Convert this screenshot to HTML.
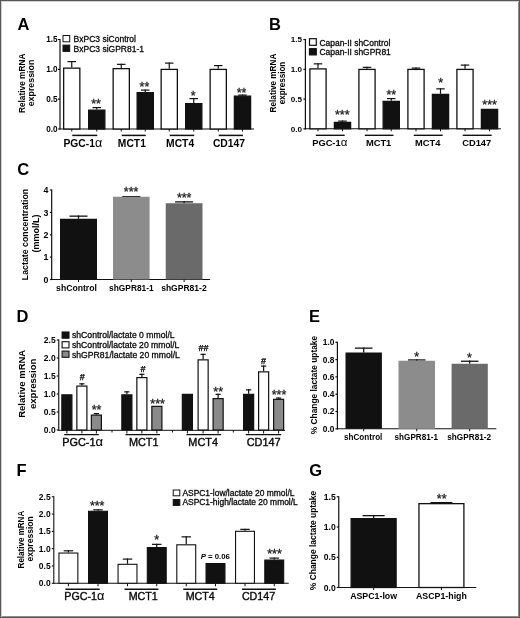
<!DOCTYPE html>
<html lang="en">
<head>
<meta charset="utf-8">
<title>Figure: GPR81 silencing, mRNA expression and lactate uptake</title>
<style>
html,body{margin:0;padding:0;background:#fff;}
body{width:520px;height:618px;overflow:hidden;position:relative;font-family:"Liberation Sans",Arial,Helvetica,sans-serif;}
#frame{position:absolute;left:0;top:0;width:520px;height:618px;box-sizing:border-box;border:1px solid #585858;box-shadow:inset 1px 1px 0 #d0d0d0,inset -1px -1px 0 #8c8c8c;}
svg{position:absolute;left:0;top:0;display:block;}
svg text{font-family:"Liberation Sans",Arial,Helvetica,sans-serif;}
</style>
</head>
<body>
<svg width="520" height="618" viewBox="0 0 520 618">
<rect x="0" y="0" width="520" height="618" fill="#fff"/>

<text x="17.5" y="30" font-size="16.5" font-weight="bold">A</text>
<text x="269" y="30" font-size="16.5" font-weight="bold">B</text>
<text x="17.3" y="175" font-size="16.5" font-weight="bold">C</text>
<text x="16.5" y="321.5" font-size="16.5" font-weight="bold">D</text>
<text x="309" y="322" font-size="16.5" font-weight="bold">E</text>
<text x="16.5" y="476" font-size="16.5" font-weight="bold">F</text>
<text x="309.3" y="476" font-size="16.5" font-weight="bold">G</text>
<g id="panelA">
<line x1="60" y1="38.9" x2="60" y2="129.6" stroke="#111" stroke-width="1.2"/>
<line x1="58" y1="39.5" x2="60" y2="39.5" stroke="#111" stroke-width="1.2"/>
<text x="57.6" y="42.45" font-size="8.2" font-weight="bold" text-anchor="end">1.5</text>
<line x1="58" y1="69.3" x2="60" y2="69.3" stroke="#111" stroke-width="1.2"/>
<text x="57.6" y="72.25" font-size="8.2" font-weight="bold" text-anchor="end">1.0</text>
<line x1="58" y1="99.1" x2="60" y2="99.1" stroke="#111" stroke-width="1.2"/>
<text x="57.6" y="102.05" font-size="8.2" font-weight="bold" text-anchor="end">0.5</text>
<line x1="58" y1="129" x2="60" y2="129" stroke="#111" stroke-width="1.2"/>
<text x="57.6" y="131.95" font-size="8.2" font-weight="bold" text-anchor="end">0.0</text>
<line x1="59.5" y1="129" x2="254" y2="129" stroke="#111" stroke-width="1.1"/>
<line x1="71.75" y1="67.5" x2="71.75" y2="61" stroke="#111" stroke-width="1.2"/>
<line x1="67.5" y1="61.6" x2="76" y2="61.6" stroke="#111" stroke-width="1.2"/>
<rect x="63.65" y="68.15" width="16.2" height="60.85" fill="#fff" stroke="#111" stroke-width="1.3"/>
<line x1="71.75" y1="129" x2="71.75" y2="131.5" stroke="#111" stroke-width="1"/>
<line x1="96.75" y1="109.5" x2="96.75" y2="107" stroke="#111" stroke-width="1.2"/>
<line x1="92.5" y1="107.6" x2="101" y2="107.6" stroke="#111" stroke-width="1.2"/>
<rect x="88.65" y="110.15" width="16.2" height="18.85" fill="#111" stroke="#111" stroke-width="1.3"/>
<line x1="96.75" y1="129" x2="96.75" y2="131.5" stroke="#111" stroke-width="1"/>
<line x1="121.25" y1="68" x2="121.25" y2="63.75" stroke="#111" stroke-width="1.2"/>
<line x1="117" y1="64.35" x2="125.5" y2="64.35" stroke="#111" stroke-width="1.2"/>
<rect x="113.15" y="68.65" width="16.2" height="60.35" fill="#fff" stroke="#111" stroke-width="1.3"/>
<line x1="121.25" y1="129" x2="121.25" y2="131.5" stroke="#111" stroke-width="1"/>
<line x1="145.25" y1="92" x2="145.25" y2="89.5" stroke="#111" stroke-width="1.2"/>
<line x1="141" y1="90.1" x2="149.5" y2="90.1" stroke="#111" stroke-width="1.2"/>
<rect x="137.15" y="92.65" width="16.2" height="36.35" fill="#111" stroke="#111" stroke-width="1.3"/>
<line x1="145.25" y1="129" x2="145.25" y2="131.5" stroke="#111" stroke-width="1"/>
<line x1="169.25" y1="68.75" x2="169.25" y2="62.5" stroke="#111" stroke-width="1.2"/>
<line x1="165" y1="63.1" x2="173.5" y2="63.1" stroke="#111" stroke-width="1.2"/>
<rect x="161.15" y="69.4" width="16.2" height="59.6" fill="#fff" stroke="#111" stroke-width="1.3"/>
<line x1="169.25" y1="129" x2="169.25" y2="131.5" stroke="#111" stroke-width="1"/>
<line x1="193.75" y1="103" x2="193.75" y2="98" stroke="#111" stroke-width="1.2"/>
<line x1="189.5" y1="98.6" x2="198" y2="98.6" stroke="#111" stroke-width="1.2"/>
<rect x="185.65" y="103.65" width="16.2" height="25.35" fill="#111" stroke="#111" stroke-width="1.3"/>
<line x1="193.75" y1="129" x2="193.75" y2="131.5" stroke="#111" stroke-width="1"/>
<line x1="218.25" y1="68.75" x2="218.25" y2="65" stroke="#111" stroke-width="1.2"/>
<line x1="214" y1="65.6" x2="222.5" y2="65.6" stroke="#111" stroke-width="1.2"/>
<rect x="210.15" y="69.4" width="16.2" height="59.6" fill="#fff" stroke="#111" stroke-width="1.3"/>
<line x1="218.25" y1="129" x2="218.25" y2="131.5" stroke="#111" stroke-width="1"/>
<line x1="242.5" y1="95.5" x2="242.5" y2="94.5" stroke="#111" stroke-width="1.2"/>
<line x1="238.25" y1="95.1" x2="246.75" y2="95.1" stroke="#111" stroke-width="1.2"/>
<rect x="234.4" y="96.15" width="16.2" height="32.85" fill="#111" stroke="#111" stroke-width="1.3"/>
<line x1="242.5" y1="129" x2="242.5" y2="131.5" stroke="#111" stroke-width="1"/>
<line x1="72.25" y1="135.4" x2="97.25" y2="135.4" stroke="#111" stroke-width="1.5"/>
<text x="82.85" y="146.5" font-size="10.3" text-anchor="middle" font-weight="bold">PGC-1<tspan font-size="12.5" font-weight="normal" stroke-width="0.1">α</tspan></text>
<line x1="121.75" y1="135.4" x2="145.75" y2="135.4" stroke="#111" stroke-width="1.5"/>
<text x="131.85" y="146.5" font-size="10.3" text-anchor="middle" font-weight="bold">MCT1</text>
<line x1="169.75" y1="135.4" x2="194.25" y2="135.4" stroke="#111" stroke-width="1.5"/>
<text x="180.1" y="146.5" font-size="10.3" text-anchor="middle" font-weight="bold">MCT4</text>
<line x1="218.75" y1="135.4" x2="243" y2="135.4" stroke="#111" stroke-width="1.5"/>
<text x="228.97" y="146.5" font-size="10.3" text-anchor="middle" font-weight="bold">CD147</text>
<rect x="63" y="35.5" width="6.7" height="6.3" fill="#fff" stroke="#111" stroke-width="1"/>
<rect x="63" y="45.1" width="6.7" height="6.3" fill="#111" stroke="#111" stroke-width="1"/>
<text x="73.6" y="42.2" font-size="8.5" stroke="#111" stroke-width="0.3">BxPC3 siControl</text>
<text x="73.6" y="51.5" font-size="8.5" stroke="#111" stroke-width="0.3">BxPC3 siGPR81-1</text>
<text x="24.8" y="83.3" font-size="9" font-weight="bold" text-anchor="middle" transform="rotate(-90 24.8 83.3)" textLength="59.6" lengthAdjust="spacingAndGlyphs">Relative mRNA</text>
<text x="33.6" y="83" font-size="8.6" font-weight="bold" text-anchor="middle" transform="rotate(-90 33.6 83)" textLength="46.6" lengthAdjust="spacingAndGlyphs">expression</text>
<text x="96.1" y="108.3" font-size="12.5" text-anchor="middle" fill="#222" stroke="#222" stroke-width="0.3">**</text>
<text x="144.4" y="90.8" font-size="12.5" text-anchor="middle" fill="#222" stroke="#222" stroke-width="0.3">**</text>
<text x="193.2" y="99.5" font-size="12.5" text-anchor="middle" fill="#222" stroke="#222" stroke-width="0.3">*</text>
<text x="241.6" y="96.5" font-size="12.5" text-anchor="middle" fill="#222" stroke="#222" stroke-width="0.3">**</text>
</g>
<g id="panelB">
<line x1="305.4" y1="38.9" x2="305.4" y2="129.4" stroke="#111" stroke-width="1.2"/>
<line x1="303.4" y1="39.5" x2="305.4" y2="39.5" stroke="#111" stroke-width="1.2"/>
<text x="302" y="42.42" font-size="8.1" font-weight="bold" text-anchor="end">1.5</text>
<line x1="303.4" y1="69.3" x2="305.4" y2="69.3" stroke="#111" stroke-width="1.2"/>
<text x="302" y="72.22" font-size="8.1" font-weight="bold" text-anchor="end">1.0</text>
<line x1="303.4" y1="99.1" x2="305.4" y2="99.1" stroke="#111" stroke-width="1.2"/>
<text x="302" y="102.02" font-size="8.1" font-weight="bold" text-anchor="end">0.5</text>
<line x1="303.4" y1="128.8" x2="305.4" y2="128.8" stroke="#111" stroke-width="1.2"/>
<text x="302" y="131.72" font-size="8.1" font-weight="bold" text-anchor="end">0.0</text>
<line x1="304.9" y1="128.8" x2="501" y2="128.8" stroke="#111" stroke-width="1.1"/>
<line x1="318" y1="68.25" x2="318" y2="63.25" stroke="#111" stroke-width="1.2"/>
<line x1="313.75" y1="63.85" x2="322.25" y2="63.85" stroke="#111" stroke-width="1.2"/>
<rect x="309.9" y="68.9" width="16.2" height="59.9" fill="#fff" stroke="#111" stroke-width="1.3"/>
<line x1="318" y1="128.8" x2="318" y2="131.3" stroke="#111" stroke-width="1"/>
<line x1="342.5" y1="121.75" x2="342.5" y2="120.5" stroke="#111" stroke-width="1.2"/>
<line x1="338.25" y1="121.1" x2="346.75" y2="121.1" stroke="#111" stroke-width="1.2"/>
<rect x="334.4" y="122.4" width="16.2" height="6.4" fill="#111" stroke="#111" stroke-width="1.3"/>
<line x1="342.5" y1="128.8" x2="342.5" y2="131.3" stroke="#111" stroke-width="1"/>
<line x1="367" y1="68.75" x2="367" y2="66.75" stroke="#111" stroke-width="1.2"/>
<line x1="362.75" y1="67.35" x2="371.25" y2="67.35" stroke="#111" stroke-width="1.2"/>
<rect x="358.9" y="69.4" width="16.2" height="59.4" fill="#fff" stroke="#111" stroke-width="1.3"/>
<line x1="367" y1="128.8" x2="367" y2="131.3" stroke="#111" stroke-width="1"/>
<line x1="391.25" y1="100.75" x2="391.25" y2="98" stroke="#111" stroke-width="1.2"/>
<line x1="387" y1="98.6" x2="395.5" y2="98.6" stroke="#111" stroke-width="1.2"/>
<rect x="383.15" y="101.4" width="16.2" height="27.4" fill="#111" stroke="#111" stroke-width="1.3"/>
<line x1="391.25" y1="128.8" x2="391.25" y2="131.3" stroke="#111" stroke-width="1"/>
<line x1="416" y1="68.75" x2="416" y2="67.5" stroke="#111" stroke-width="1.2"/>
<line x1="411.75" y1="68.1" x2="420.25" y2="68.1" stroke="#111" stroke-width="1.2"/>
<rect x="407.9" y="69.4" width="16.2" height="59.4" fill="#fff" stroke="#111" stroke-width="1.3"/>
<line x1="416" y1="128.8" x2="416" y2="131.3" stroke="#111" stroke-width="1"/>
<line x1="440.5" y1="93.75" x2="440.5" y2="88.25" stroke="#111" stroke-width="1.2"/>
<line x1="436.25" y1="88.85" x2="444.75" y2="88.85" stroke="#111" stroke-width="1.2"/>
<rect x="432.4" y="94.4" width="16.2" height="34.4" fill="#111" stroke="#111" stroke-width="1.3"/>
<line x1="440.5" y1="128.8" x2="440.5" y2="131.3" stroke="#111" stroke-width="1"/>
<line x1="465" y1="68.75" x2="465" y2="64.5" stroke="#111" stroke-width="1.2"/>
<line x1="460.75" y1="65.1" x2="469.25" y2="65.1" stroke="#111" stroke-width="1.2"/>
<rect x="456.9" y="69.4" width="16.2" height="59.4" fill="#fff" stroke="#111" stroke-width="1.3"/>
<line x1="465" y1="128.8" x2="465" y2="131.3" stroke="#111" stroke-width="1"/>
<rect x="481.4" y="109.4" width="16.2" height="19.4" fill="#111" stroke="#111" stroke-width="1.3"/>
<line x1="489.5" y1="128.8" x2="489.5" y2="131.3" stroke="#111" stroke-width="1"/>
<line x1="315.8" y1="135.3" x2="344.7" y2="135.3" stroke="#111" stroke-width="1.4"/>
<text x="329.75" y="146.4" font-size="9.3" text-anchor="middle" font-weight="bold">PGC-1<tspan font-size="11.5" font-weight="normal" stroke-width="0.1">α</tspan></text>
<line x1="364.8" y1="135.3" x2="393.45" y2="135.3" stroke="#111" stroke-width="1.4"/>
<text x="378.62" y="146.4" font-size="9.3" text-anchor="middle" font-weight="bold">MCT1</text>
<line x1="413.8" y1="135.3" x2="442.7" y2="135.3" stroke="#111" stroke-width="1.4"/>
<text x="427.75" y="146.4" font-size="9.3" text-anchor="middle" font-weight="bold">MCT4</text>
<line x1="462.8" y1="135.3" x2="491.7" y2="135.3" stroke="#111" stroke-width="1.4"/>
<text x="476.75" y="146.4" font-size="9.3" text-anchor="middle" font-weight="bold">CD147</text>
<rect x="309.5" y="38.7" width="6.8" height="6.6" fill="#fff" stroke="#111" stroke-width="1.2"/>
<rect x="309.5" y="48.7" width="6.8" height="6.2" fill="#111" stroke="#111" stroke-width="1.2"/>
<text x="319.5" y="45.5" font-size="8.45" stroke="#111" stroke-width="0.3">Capan-II shControl</text>
<text x="319.5" y="54.7" font-size="8.45" stroke="#111" stroke-width="0.3">Capan-II shGPR81</text>
<text x="275.5" y="83" font-size="8.5" font-weight="bold" text-anchor="middle" transform="rotate(-90 275.5 83)" textLength="58.8" lengthAdjust="spacingAndGlyphs">Relative mRNA</text>
<text x="285" y="83" font-size="8.2" font-weight="bold" text-anchor="middle" transform="rotate(-90 285 83)" textLength="42.6" lengthAdjust="spacingAndGlyphs">expression</text>
<text x="342.3" y="118.5" font-size="12.5" text-anchor="middle" fill="#222" stroke="#222" stroke-width="0.3">***</text>
<text x="391.3" y="99" font-size="12.5" text-anchor="middle" fill="#222" stroke="#222" stroke-width="0.3">**</text>
<text x="440.6" y="87.3" font-size="12.5" text-anchor="middle" fill="#222" stroke="#222" stroke-width="0.3">*</text>
<text x="489.6" y="108.8" font-size="12.5" text-anchor="middle" fill="#222" stroke="#222" stroke-width="0.3">***</text>
</g>
<g id="panelC">
<line x1="51.7" y1="189.4" x2="51.7" y2="280.1" stroke="#111" stroke-width="1.2"/>
<line x1="49.9" y1="190" x2="51.7" y2="190" stroke="#111" stroke-width="1.2"/>
<text x="48.5" y="193.17" font-size="8.8" font-weight="bold" text-anchor="end">4</text>
<line x1="49.9" y1="212.4" x2="51.7" y2="212.4" stroke="#111" stroke-width="1.2"/>
<text x="48.5" y="215.57" font-size="8.8" font-weight="bold" text-anchor="end">3</text>
<line x1="49.9" y1="234.8" x2="51.7" y2="234.8" stroke="#111" stroke-width="1.2"/>
<text x="48.5" y="237.97" font-size="8.8" font-weight="bold" text-anchor="end">2</text>
<line x1="49.9" y1="257.1" x2="51.7" y2="257.1" stroke="#111" stroke-width="1.2"/>
<text x="48.5" y="260.27" font-size="8.8" font-weight="bold" text-anchor="end">1</text>
<line x1="49.9" y1="279.5" x2="51.7" y2="279.5" stroke="#111" stroke-width="1.2"/>
<text x="48.5" y="282.67" font-size="8.8" font-weight="bold" text-anchor="end">0</text>
<line x1="51.2" y1="279.5" x2="210" y2="279.5" stroke="#111" stroke-width="1.1"/>
<line x1="78.5" y1="218.75" x2="78.5" y2="215.5" stroke="#111" stroke-width="1.3"/>
<line x1="69.5" y1="216.15" x2="87.5" y2="216.15" stroke="#111" stroke-width="1.3"/>
<rect x="60" y="218.75" width="37" height="60.75" fill="#111"/>
<line x1="78.5" y1="279.5" x2="78.5" y2="282" stroke="#111" stroke-width="1"/>
<text x="76.5" y="291" font-size="8.6" font-weight="bold" text-anchor="middle" textLength="40.8" lengthAdjust="spacingAndGlyphs">shControl</text>
<line x1="131.3" y1="196.75" x2="131.3" y2="196" stroke="#111" stroke-width="1.3"/>
<line x1="122.3" y1="196.65" x2="140.3" y2="196.65" stroke="#111" stroke-width="1.3"/>
<rect x="113" y="196.75" width="36.6" height="82.75" fill="#8c8c8c"/>
<line x1="131.3" y1="279.5" x2="131.3" y2="282" stroke="#111" stroke-width="1"/>
<text x="131.4" y="291" font-size="8.6" font-weight="bold" text-anchor="middle" textLength="44.6" lengthAdjust="spacingAndGlyphs">shGPR81-1</text>
<line x1="184.12" y1="203.25" x2="184.12" y2="201.25" stroke="#111" stroke-width="1.3"/>
<line x1="175.12" y1="201.9" x2="193.12" y2="201.9" stroke="#111" stroke-width="1.3"/>
<rect x="165.75" y="203.25" width="36.75" height="76.25" fill="#6a6a6a"/>
<line x1="184.12" y1="279.5" x2="184.12" y2="282" stroke="#111" stroke-width="1"/>
<text x="183.93" y="291" font-size="8.6" font-weight="bold" text-anchor="middle" textLength="45.6" lengthAdjust="spacingAndGlyphs">shGPR81-2</text>
<text x="27.6" y="234.5" font-size="8.8" font-weight="bold" text-anchor="middle" transform="rotate(-90 27.6 234.5)">Lactate concentration</text>
<text x="39" y="233.5" font-size="9" font-weight="bold" text-anchor="middle" transform="rotate(-90 39 233.5)">(mmol/L)</text>
<text x="131.1" y="195.9" font-size="12.5" text-anchor="middle" fill="#222" stroke="#222" stroke-width="0.3">***</text>
<text x="184.2" y="202.1" font-size="12.5" text-anchor="middle" fill="#222" stroke="#222" stroke-width="0.3">***</text>
</g>
<g id="panelD">
<line x1="58.75" y1="339.43" x2="58.75" y2="430.57" stroke="#111" stroke-width="1.15"/>
<line x1="56.75" y1="340" x2="58.75" y2="340" stroke="#111" stroke-width="1.15"/>
<text x="55.65" y="343.06" font-size="8.5" font-weight="bold" text-anchor="end">2.5</text>
<line x1="56.75" y1="358" x2="58.75" y2="358" stroke="#111" stroke-width="1.15"/>
<text x="55.65" y="361.06" font-size="8.5" font-weight="bold" text-anchor="end">2.0</text>
<line x1="56.75" y1="376" x2="58.75" y2="376" stroke="#111" stroke-width="1.15"/>
<text x="55.65" y="379.06" font-size="8.5" font-weight="bold" text-anchor="end">1.5</text>
<line x1="56.75" y1="394" x2="58.75" y2="394" stroke="#111" stroke-width="1.15"/>
<text x="55.65" y="397.06" font-size="8.5" font-weight="bold" text-anchor="end">1.0</text>
<line x1="56.75" y1="412" x2="58.75" y2="412" stroke="#111" stroke-width="1.15"/>
<text x="55.65" y="415.06" font-size="8.5" font-weight="bold" text-anchor="end">0.5</text>
<line x1="56.75" y1="430" x2="58.75" y2="430" stroke="#111" stroke-width="1.15"/>
<text x="55.65" y="433.06" font-size="8.5" font-weight="bold" text-anchor="end">0.0</text>
<line x1="58.25" y1="430.3" x2="285" y2="430.3" stroke="#111" stroke-width="1"/>
<rect x="61.85" y="394.85" width="10.05" height="35.15" fill="#111" stroke="#111" stroke-width="1.2"/>
<line x1="66.88" y1="430" x2="66.88" y2="433.5" stroke="#111" stroke-width="1"/>
<line x1="81.88" y1="385.5" x2="81.88" y2="383.25" stroke="#111" stroke-width="1.2"/>
<line x1="79.28" y1="383.85" x2="84.47" y2="383.85" stroke="#111" stroke-width="1.2"/>
<rect x="76.85" y="386.1" width="10.05" height="43.9" fill="#fff" stroke="#111" stroke-width="1.2"/>
<line x1="81.88" y1="430" x2="81.88" y2="433.5" stroke="#111" stroke-width="1"/>
<line x1="96.38" y1="414.5" x2="96.38" y2="413" stroke="#111" stroke-width="1.2"/>
<line x1="93.78" y1="413.6" x2="98.97" y2="413.6" stroke="#111" stroke-width="1.2"/>
<rect x="91.35" y="415.1" width="10.05" height="14.9" fill="#8a8a8a" stroke="#111" stroke-width="1.2"/>
<line x1="96.38" y1="430" x2="96.38" y2="433.5" stroke="#111" stroke-width="1"/>
<line x1="126.88" y1="394.25" x2="126.88" y2="391.25" stroke="#111" stroke-width="1.2"/>
<line x1="124.28" y1="391.85" x2="129.47" y2="391.85" stroke="#111" stroke-width="1.2"/>
<rect x="121.85" y="394.85" width="10.05" height="35.15" fill="#111" stroke="#111" stroke-width="1.2"/>
<line x1="126.88" y1="430" x2="126.88" y2="433.5" stroke="#111" stroke-width="1"/>
<line x1="141.88" y1="377" x2="141.88" y2="373.75" stroke="#111" stroke-width="1.2"/>
<line x1="139.28" y1="374.35" x2="144.47" y2="374.35" stroke="#111" stroke-width="1.2"/>
<rect x="136.85" y="377.6" width="10.05" height="52.4" fill="#fff" stroke="#111" stroke-width="1.2"/>
<line x1="141.88" y1="430" x2="141.88" y2="433.5" stroke="#111" stroke-width="1"/>
<rect x="151.85" y="406.35" width="10.05" height="23.65" fill="#8a8a8a" stroke="#111" stroke-width="1.2"/>
<line x1="156.88" y1="430" x2="156.88" y2="433.5" stroke="#111" stroke-width="1"/>
<rect x="182.35" y="394.35" width="10.05" height="35.65" fill="#111" stroke="#111" stroke-width="1.2"/>
<line x1="187.38" y1="430" x2="187.38" y2="433.5" stroke="#111" stroke-width="1"/>
<line x1="203.12" y1="359.25" x2="203.12" y2="353.75" stroke="#111" stroke-width="1.2"/>
<line x1="200.53" y1="354.35" x2="205.72" y2="354.35" stroke="#111" stroke-width="1.2"/>
<rect x="198.1" y="359.85" width="10.05" height="70.15" fill="#fff" stroke="#111" stroke-width="1.2"/>
<line x1="203.12" y1="430" x2="203.12" y2="433.5" stroke="#111" stroke-width="1"/>
<line x1="218.12" y1="398" x2="218.12" y2="393.75" stroke="#111" stroke-width="1.2"/>
<line x1="215.53" y1="394.35" x2="220.72" y2="394.35" stroke="#111" stroke-width="1.2"/>
<rect x="213.1" y="398.6" width="10.05" height="31.4" fill="#8a8a8a" stroke="#111" stroke-width="1.2"/>
<line x1="218.12" y1="430" x2="218.12" y2="433.5" stroke="#111" stroke-width="1"/>
<line x1="248.62" y1="393.75" x2="248.62" y2="389.25" stroke="#111" stroke-width="1.2"/>
<line x1="246.03" y1="389.85" x2="251.22" y2="389.85" stroke="#111" stroke-width="1.2"/>
<rect x="243.6" y="394.35" width="10.05" height="35.65" fill="#111" stroke="#111" stroke-width="1.2"/>
<line x1="248.62" y1="430" x2="248.62" y2="433.5" stroke="#111" stroke-width="1"/>
<line x1="263.62" y1="371.25" x2="263.62" y2="365.5" stroke="#111" stroke-width="1.2"/>
<line x1="261.02" y1="366.1" x2="266.23" y2="366.1" stroke="#111" stroke-width="1.2"/>
<rect x="258.6" y="371.85" width="10.05" height="58.15" fill="#fff" stroke="#111" stroke-width="1.2"/>
<line x1="263.62" y1="430" x2="263.62" y2="433.5" stroke="#111" stroke-width="1"/>
<line x1="278.62" y1="398.75" x2="278.62" y2="397.5" stroke="#111" stroke-width="1.2"/>
<line x1="276.02" y1="398.1" x2="281.23" y2="398.1" stroke="#111" stroke-width="1.2"/>
<rect x="273.6" y="399.35" width="10.05" height="30.65" fill="#8a8a8a" stroke="#111" stroke-width="1.2"/>
<line x1="278.62" y1="430" x2="278.62" y2="433.5" stroke="#111" stroke-width="1"/>
<line x1="112" y1="430" x2="112" y2="432.5" stroke="#111" stroke-width="1"/>
<line x1="172.5" y1="430" x2="172.5" y2="432.5" stroke="#111" stroke-width="1"/>
<line x1="233.3" y1="430" x2="233.3" y2="432.5" stroke="#111" stroke-width="1"/>
<line x1="64.2" y1="434.6" x2="98.8" y2="434.6" stroke="#111" stroke-width="1.4"/>
<text x="82.62" y="445.8" font-size="10.9" text-anchor="middle" stroke="#111" stroke-width="0.38">PGC-1<tspan font-size="13" font-weight="normal" stroke-width="0.1">α</tspan></text>
<line x1="125.5" y1="434.6" x2="160" y2="434.6" stroke="#111" stroke-width="1.4"/>
<text x="143.78" y="445.8" font-size="10.9" text-anchor="middle" stroke="#111" stroke-width="0.38">MCT1</text>
<line x1="186.5" y1="434.6" x2="221.2" y2="434.6" stroke="#111" stroke-width="1.4"/>
<text x="203.15" y="445.8" font-size="10.9" text-anchor="middle" stroke="#111" stroke-width="0.38">MCT4</text>
<line x1="245.8" y1="434.6" x2="281.2" y2="434.6" stroke="#111" stroke-width="1.4"/>
<text x="263.62" y="445.8" font-size="10.9" text-anchor="middle" stroke="#111" stroke-width="0.38">CD147</text>
<rect x="62.1" y="332" width="6.9" height="6.2" fill="#111" stroke="#111" stroke-width="1.1"/>
<rect x="62.1" y="341.7" width="6.9" height="6.2" fill="#fff" stroke="#111" stroke-width="1.1"/>
<rect x="62.1" y="351.1" width="6.9" height="6.2" fill="#8a8a8a" stroke="#111" stroke-width="1.1"/>
<text x="72" y="338.3" font-size="8.65" stroke="#111" stroke-width="0.3">shControl/lactate 0 mmol/L</text>
<text x="72" y="347.8" font-size="8.65" stroke="#111" stroke-width="0.3">shControl/lactate 20 mmol/L</text>
<text x="72" y="357.6" font-size="8.65" stroke="#111" stroke-width="0.3">shGPR81/lactate 20 mmol/L</text>
<text x="24.9" y="383.8" font-size="9.9" font-weight="bold" text-anchor="middle" transform="rotate(-90 24.9 383.8)" textLength="68" lengthAdjust="spacingAndGlyphs">Relative mRNA</text>
<text x="36.3" y="383.8" font-size="9.5" font-weight="bold" text-anchor="middle" transform="rotate(-90 36.3 383.8)" textLength="50.4" lengthAdjust="spacingAndGlyphs">expression</text>
<text x="82.2" y="380.2" font-size="9" font-weight="bold" text-anchor="middle" stroke="#111" stroke-width="0.25">#</text>
<text x="143" y="371.8" font-size="9" font-weight="bold" text-anchor="middle" stroke="#111" stroke-width="0.25">#</text>
<text x="203.5" y="351" font-size="9" font-weight="bold" text-anchor="middle" stroke="#111" stroke-width="0.25">##</text>
<text x="263.5" y="363.8" font-size="9" font-weight="bold" text-anchor="middle" stroke="#111" stroke-width="0.25">#</text>
<text x="96.6" y="413.9" font-size="12.5" text-anchor="middle" fill="#222" stroke="#222" stroke-width="0.3">**</text>
<text x="157.6" y="407.8" font-size="12.5" text-anchor="middle" fill="#222" stroke="#222" stroke-width="0.3">***</text>
<text x="218.2" y="396.3" font-size="12.5" text-anchor="middle" fill="#222" stroke="#222" stroke-width="0.3">**</text>
<text x="279" y="398.7" font-size="12.5" text-anchor="middle" fill="#222" stroke="#222" stroke-width="0.3">***</text>
</g>
<g id="panelE">
<line x1="337.4" y1="341.7" x2="337.4" y2="429.4" stroke="#111" stroke-width="1.2"/>
<line x1="335.4" y1="342.3" x2="337.4" y2="342.3" stroke="#111" stroke-width="1.2"/>
<text x="334.4" y="345.29" font-size="8.3" font-weight="bold" text-anchor="end">1.0</text>
<line x1="335.4" y1="359.6" x2="337.4" y2="359.6" stroke="#111" stroke-width="1.2"/>
<text x="334.4" y="362.59" font-size="8.3" font-weight="bold" text-anchor="end">0.8</text>
<line x1="335.4" y1="376.9" x2="337.4" y2="376.9" stroke="#111" stroke-width="1.2"/>
<text x="334.4" y="379.89" font-size="8.3" font-weight="bold" text-anchor="end">0.6</text>
<line x1="335.4" y1="394.2" x2="337.4" y2="394.2" stroke="#111" stroke-width="1.2"/>
<text x="334.4" y="397.19" font-size="8.3" font-weight="bold" text-anchor="end">0.4</text>
<line x1="335.4" y1="411.5" x2="337.4" y2="411.5" stroke="#111" stroke-width="1.2"/>
<text x="334.4" y="414.49" font-size="8.3" font-weight="bold" text-anchor="end">0.2</text>
<line x1="335.4" y1="428.8" x2="337.4" y2="428.8" stroke="#111" stroke-width="1.2"/>
<text x="334.4" y="431.79" font-size="8.3" font-weight="bold" text-anchor="end">0.0</text>
<line x1="336.9" y1="428.8" x2="496.3" y2="428.8" stroke="#111" stroke-width="1.1"/>
<line x1="363.7" y1="352.5" x2="363.7" y2="347.5" stroke="#111" stroke-width="1.3"/>
<line x1="354.95" y1="348.15" x2="372.45" y2="348.15" stroke="#111" stroke-width="1.3"/>
<rect x="345.5" y="352.5" width="36.4" height="76.3" fill="#111"/>
<line x1="363.7" y1="428.8" x2="363.7" y2="431.3" stroke="#111" stroke-width="1"/>
<text x="363.2" y="439.7" font-size="8.2" font-weight="bold" text-anchor="middle" textLength="38.3" lengthAdjust="spacingAndGlyphs">shControl</text>
<line x1="416.75" y1="360.75" x2="416.75" y2="359.3" stroke="#111" stroke-width="1.3"/>
<line x1="408" y1="359.95" x2="425.5" y2="359.95" stroke="#111" stroke-width="1.3"/>
<rect x="398.5" y="360.75" width="36.5" height="68.05" fill="#8c8c8c"/>
<line x1="416.75" y1="428.8" x2="416.75" y2="431.3" stroke="#111" stroke-width="1"/>
<text x="416.25" y="439.7" font-size="8.2" font-weight="bold" text-anchor="middle" textLength="43.3" lengthAdjust="spacingAndGlyphs">shGPR81-1</text>
<line x1="469.7" y1="363.75" x2="469.7" y2="360.6" stroke="#111" stroke-width="1.3"/>
<line x1="460.95" y1="361.25" x2="478.45" y2="361.25" stroke="#111" stroke-width="1.3"/>
<rect x="451.6" y="363.75" width="36.2" height="65.05" fill="#6a6a6a"/>
<line x1="469.7" y1="428.8" x2="469.7" y2="431.3" stroke="#111" stroke-width="1"/>
<text x="469.2" y="439.7" font-size="8.2" font-weight="bold" text-anchor="middle" textLength="43.9" lengthAdjust="spacingAndGlyphs">shGPR81-2</text>
<text x="317" y="385" font-size="8.35" font-weight="bold" text-anchor="middle" transform="rotate(-90 317 385)">% Change lactate uptake</text>
<text x="416.7" y="360.5" font-size="12.5" text-anchor="middle" fill="#222" stroke="#222" stroke-width="0.3">*</text>
<text x="469.4" y="361.7" font-size="12.5" text-anchor="middle" fill="#222" stroke="#222" stroke-width="0.3">*</text>
</g>
<g id="panelF">
<line x1="53.8" y1="496.2" x2="53.8" y2="583.8" stroke="#111" stroke-width="1.1"/>
<line x1="51.8" y1="496.75" x2="53.8" y2="496.75" stroke="#111" stroke-width="1.1"/>
<text x="50.7" y="499.81" font-size="8.5" font-weight="bold" text-anchor="end">2.5</text>
<line x1="51.8" y1="514.05" x2="53.8" y2="514.05" stroke="#111" stroke-width="1.1"/>
<text x="50.7" y="517.11" font-size="8.5" font-weight="bold" text-anchor="end">2.0</text>
<line x1="51.8" y1="531.35" x2="53.8" y2="531.35" stroke="#111" stroke-width="1.1"/>
<text x="50.7" y="534.41" font-size="8.5" font-weight="bold" text-anchor="end">1.5</text>
<line x1="51.8" y1="548.65" x2="53.8" y2="548.65" stroke="#111" stroke-width="1.1"/>
<text x="50.7" y="551.71" font-size="8.5" font-weight="bold" text-anchor="end">1.0</text>
<line x1="51.8" y1="565.95" x2="53.8" y2="565.95" stroke="#111" stroke-width="1.1"/>
<text x="50.7" y="569.01" font-size="8.5" font-weight="bold" text-anchor="end">0.5</text>
<line x1="51.8" y1="583.25" x2="53.8" y2="583.25" stroke="#111" stroke-width="1.1"/>
<text x="50.7" y="586.31" font-size="8.5" font-weight="bold" text-anchor="end">0.0</text>
<line x1="53.3" y1="583.25" x2="288.75" y2="583.25" stroke="#111" stroke-width="1.1"/>
<line x1="68.4" y1="552.5" x2="68.4" y2="550.2" stroke="#111" stroke-width="1.2"/>
<line x1="63.65" y1="550.8" x2="73.15" y2="550.8" stroke="#111" stroke-width="1.2"/>
<rect x="58.95" y="553.05" width="18.9" height="30.2" fill="#fff" stroke="#111" stroke-width="1.1"/>
<line x1="68.4" y1="583.25" x2="68.4" y2="586.25" stroke="#111" stroke-width="1"/>
<line x1="98" y1="510.75" x2="98" y2="509.25" stroke="#111" stroke-width="1.2"/>
<line x1="93.25" y1="509.85" x2="102.75" y2="509.85" stroke="#111" stroke-width="1.2"/>
<rect x="88.55" y="511.3" width="18.9" height="71.95" fill="#111" stroke="#111" stroke-width="1.1"/>
<line x1="98" y1="583.25" x2="98" y2="586.25" stroke="#111" stroke-width="1"/>
<line x1="127.5" y1="563.75" x2="127.5" y2="558.5" stroke="#111" stroke-width="1.2"/>
<line x1="122.75" y1="559.1" x2="132.25" y2="559.1" stroke="#111" stroke-width="1.2"/>
<rect x="118.05" y="564.3" width="18.9" height="18.95" fill="#fff" stroke="#111" stroke-width="1.1"/>
<line x1="127.5" y1="583.25" x2="127.5" y2="586.25" stroke="#111" stroke-width="1"/>
<line x1="156.75" y1="547" x2="156.75" y2="543.75" stroke="#111" stroke-width="1.2"/>
<line x1="152" y1="544.35" x2="161.5" y2="544.35" stroke="#111" stroke-width="1.2"/>
<rect x="147.3" y="547.55" width="18.9" height="35.7" fill="#111" stroke="#111" stroke-width="1.1"/>
<line x1="156.75" y1="583.25" x2="156.75" y2="586.25" stroke="#111" stroke-width="1"/>
<line x1="186.25" y1="544.25" x2="186.25" y2="536.25" stroke="#111" stroke-width="1.2"/>
<line x1="181.5" y1="536.85" x2="191" y2="536.85" stroke="#111" stroke-width="1.2"/>
<rect x="176.8" y="544.8" width="18.9" height="38.45" fill="#fff" stroke="#111" stroke-width="1.1"/>
<line x1="186.25" y1="583.25" x2="186.25" y2="586.25" stroke="#111" stroke-width="1"/>
<rect x="206.05" y="563.55" width="18.9" height="19.7" fill="#111" stroke="#111" stroke-width="1.1"/>
<line x1="215.5" y1="583.25" x2="215.5" y2="586.25" stroke="#111" stroke-width="1"/>
<line x1="245" y1="530.75" x2="245" y2="528.75" stroke="#111" stroke-width="1.2"/>
<line x1="240.25" y1="529.35" x2="249.75" y2="529.35" stroke="#111" stroke-width="1.2"/>
<rect x="235.55" y="531.3" width="18.9" height="51.95" fill="#fff" stroke="#111" stroke-width="1.1"/>
<line x1="245" y1="583.25" x2="245" y2="586.25" stroke="#111" stroke-width="1"/>
<line x1="274.25" y1="559.5" x2="274.25" y2="557.5" stroke="#111" stroke-width="1.2"/>
<line x1="269.5" y1="558.1" x2="279" y2="558.1" stroke="#111" stroke-width="1.2"/>
<rect x="264.8" y="560.05" width="18.9" height="23.2" fill="#111" stroke="#111" stroke-width="1.1"/>
<line x1="274.25" y1="583.25" x2="274.25" y2="586.25" stroke="#111" stroke-width="1"/>
<line x1="65.4" y1="589.2" x2="99.7" y2="589.2" stroke="#111" stroke-width="1.4"/>
<text x="84.4" y="599.7" font-size="10.7" text-anchor="middle" stroke="#111" stroke-width="0.38">PGC-1<tspan font-size="12.8" font-weight="normal" stroke-width="0.1">α</tspan></text>
<line x1="124.5" y1="589.2" x2="158.45" y2="589.2" stroke="#111" stroke-width="1.4"/>
<text x="143.22" y="599.7" font-size="10.7" text-anchor="middle" stroke="#111" stroke-width="0.38">MCT1</text>
<line x1="183.25" y1="589.2" x2="217.2" y2="589.2" stroke="#111" stroke-width="1.4"/>
<text x="200.28" y="599.7" font-size="10.7" text-anchor="middle" stroke="#111" stroke-width="0.38">MCT4</text>
<line x1="242" y1="589.2" x2="275.95" y2="589.2" stroke="#111" stroke-width="1.4"/>
<text x="258.52" y="599.7" font-size="10.7" text-anchor="middle" stroke="#111" stroke-width="0.38">CD147</text>
<rect x="173.2" y="490" width="6.6" height="5.8" fill="#fff" stroke="#111" stroke-width="1"/>
<rect x="173.2" y="499.6" width="6.6" height="5.8" fill="#111" stroke="#111" stroke-width="1"/>
<text x="182.4" y="495.7" font-size="8.45" stroke="#111" stroke-width="0.3">ASPC1-low/lactate 20 mmol/L</text>
<text x="182.4" y="505.2" font-size="8.45" stroke="#111" stroke-width="0.3">ASPC1-high/lactate 20 mmol/L</text>
<text x="24" y="539.6" font-size="8.6" font-weight="bold" text-anchor="middle" transform="rotate(-90 24 539.6)" textLength="57.6" lengthAdjust="spacingAndGlyphs">Relative mRNA</text>
<text x="33.2" y="538.8" font-size="8.5" font-weight="bold" text-anchor="middle" transform="rotate(-90 33.2 538.8)" textLength="45.2" lengthAdjust="spacingAndGlyphs">expression</text>
<text x="97.2" y="510.3" font-size="12.5" text-anchor="middle" fill="#222" stroke="#222" stroke-width="0.3">***</text>
<text x="156.6" y="544.4" font-size="12.5" text-anchor="middle" fill="#222" stroke="#222" stroke-width="0.3">*</text>
<text x="274.5" y="558.4" font-size="12.5" text-anchor="middle" fill="#222" stroke="#222" stroke-width="0.3">***</text>
<text x="200.7" y="558.9" font-size="7.8" font-weight="bold"><tspan font-style="italic">P</tspan> = 0.06</text>
</g>
<g id="panelG">
<line x1="338.75" y1="496.15" x2="338.75" y2="588.1" stroke="#111" stroke-width="1.2"/>
<line x1="336.75" y1="496.75" x2="338.75" y2="496.75" stroke="#111" stroke-width="1.2"/>
<text x="335.75" y="499.85" font-size="8.6" font-weight="bold" text-anchor="end">1.5</text>
<line x1="336.75" y1="527" x2="338.75" y2="527" stroke="#111" stroke-width="1.2"/>
<text x="335.75" y="530.1" font-size="8.6" font-weight="bold" text-anchor="end">1.0</text>
<line x1="336.75" y1="557.25" x2="338.75" y2="557.25" stroke="#111" stroke-width="1.2"/>
<text x="335.75" y="560.35" font-size="8.6" font-weight="bold" text-anchor="end">0.5</text>
<line x1="336.75" y1="587.5" x2="338.75" y2="587.5" stroke="#111" stroke-width="1.2"/>
<text x="335.75" y="590.6" font-size="8.6" font-weight="bold" text-anchor="end">0.0</text>
<line x1="338.25" y1="587.5" x2="476.3" y2="587.5" stroke="#111" stroke-width="1.1"/>
<line x1="373.62" y1="518" x2="373.62" y2="515" stroke="#111" stroke-width="1.3"/>
<line x1="362.62" y1="515.65" x2="384.62" y2="515.65" stroke="#111" stroke-width="1.3"/>
<rect x="351.15" y="518.65" width="44.95" height="68.85" fill="#111" stroke="#111" stroke-width="1.3"/>
<line x1="373.62" y1="587.5" x2="373.62" y2="590" stroke="#111" stroke-width="1"/>
<text x="373.62" y="599.3" font-size="8.8" font-weight="bold" text-anchor="middle">ASPC1-low</text>
<line x1="441.43" y1="503" x2="441.43" y2="502" stroke="#111" stroke-width="1.3"/>
<line x1="430.43" y1="502.65" x2="452.43" y2="502.65" stroke="#111" stroke-width="1.3"/>
<rect x="418.95" y="503.65" width="44.95" height="83.85" fill="#fff" stroke="#111" stroke-width="1.3"/>
<line x1="441.43" y1="587.5" x2="441.43" y2="590" stroke="#111" stroke-width="1"/>
<text x="441.43" y="599.3" font-size="8.8" font-weight="bold" text-anchor="middle">ASCP1-high</text>
<text x="316" y="540.5" font-size="8.6" font-weight="bold" text-anchor="middle" transform="rotate(-90 316 540.5)" textLength="99.4" lengthAdjust="spacingAndGlyphs">% Change lactate uptake</text>
<text x="441.7" y="502.7" font-size="12.5" text-anchor="middle" fill="#222" stroke="#222" stroke-width="0.3">**</text>
</g>
</svg>
<div id="frame"></div>
</body>
</html>
